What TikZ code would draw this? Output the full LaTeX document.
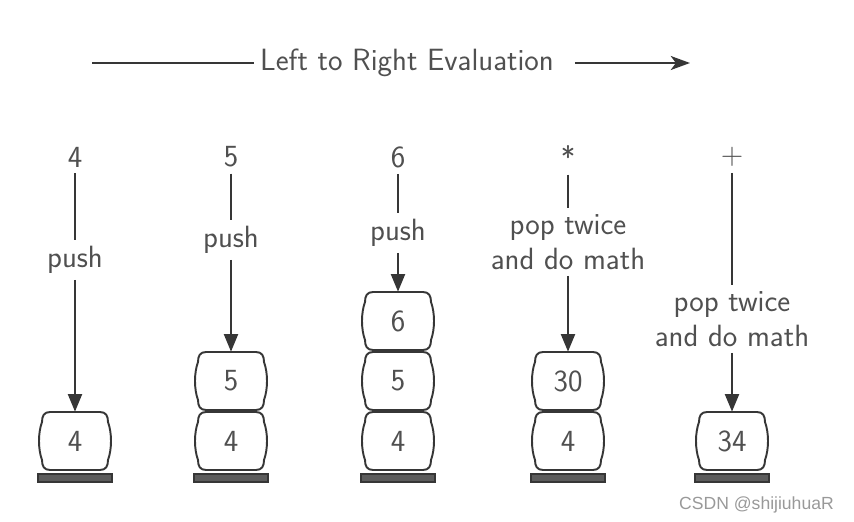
\documentclass[tikz,border=0pt]{standalone}
\usepackage{fontspec}
\newfontfamily\markfont{Liberation Sans}
\usepackage{xcolor}
\usepackage{tikz}
\usetikzlibrary{arrows.meta}
\usetikzlibrary{calc}

\definecolor{inkgray}{HTML}{363636}
\definecolor{textgray}{HTML}{505050}
\definecolor{basegray}{HTML}{5C5C5C}

\tikzset{
  num/.style={text=textgray, font=\sffamily\fontsize{17.5}{20}\selectfont},
  lbl/.style={num, align=center},
  cell/.style={num, minimum width=1.34cm, minimum height=1.16cm, inner sep=0pt},
  stackbase/.style={fill=basegray, draw=inkgray, line width=0.6pt, minimum width=1.48cm, minimum height=0.16cm, inner sep=0pt},
  wire/.style={draw=inkgray, line width=1.1pt},
  pusharrow/.style={wire, -{Triangle[length=10pt,width=8pt]}},
  barrelline/.style={draw=inkgray, line width=1.1pt},
  watermark/.style={text=gray!80, font=\markfont\fontsize{10}{12}\selectfont},
}

\newcommand{\barrel}[1]{%
  \draw[barrelline,shift={(#1.center)}] (-25,-29) -- (25,-29)
    .. controls (31,-29) and (33,-25) .. (33,-19)
    .. controls (37,-8) and (37,8) .. (33,19)
    .. controls (33,25) and (31,29) .. (25,29) -- (-25,29)
    .. controls (-31,29) and (-33,25) .. (-33,19)
    .. controls (-37,8) and (-37,-8) .. (-33,-19)
    .. controls (-33,-25) and (-31,-29) .. (-25,-29) -- cycle;}

\begin{document}
\begin{tikzpicture}[x=0.2mm,y=-0.2mm]
        \useasboundingbox (0,0) rectangle (854,522);

        \node[num] (title) at (407,63) {Left to Right Evaluation};
        \coordinate (tl) at (92,63);
        \coordinate (tr) at (690,63);
        \draw[wire] (tl) -- (title.west);
        \draw[wire,-{Stealth[length=11pt,width=8pt,inset=3pt]}] ([xshift=0.3cm]title.east) -- (tr);

        \node[num] (in1) at (75,157) {4};
        \node[lbl] (op1) at (75,260) {push};
        \node[cell] (c1a) at (75,441) {4};
        \node[stackbase] (base1) at (75,478) {};
        \draw[wire] (in1) -- (op1);
        \draw[pusharrow] (op1) -- (c1a);

        \node[num] (in2) at (231,157) {5};
        \node[lbl] (op2) at (231,240) {push};
        \node[cell] (c2a) at (231,441) {4};
        \node[cell] (c2b) at (231,381) {5};
        \node[stackbase] (base2) at (231,478) {};
        \draw[wire] (in2) -- (op2);
        \draw[pusharrow] (op2) -- (c2b);

        \node[num] (in3) at (398,157) {6};
        \node[lbl] (op3) at (398,233) {push};
        \node[cell] (c3a) at (398,441) {4};
        \node[cell] (c3b) at (398,381) {5};
        \node[cell] (c3c) at (398,321) {6};
        \node[stackbase] (base3) at (398,478) {};
        \draw[wire] (in3) -- (op3);
        \draw[pusharrow] (op3) -- (c3c);

        \node[num] (in4) at (568,157) {*};
        \node[lbl] (op4) at (568,242) {pop twice\\and do math};
        \node[cell] (c4a) at (568,441) {4};
        \node[cell] (c4b) at (568,381) {30};
        \node[stackbase] (base4) at (568,478) {};
        \draw[wire] (in4) -- (op4);
        \draw[pusharrow] (op4) -- (c4b);

        \node[num] (in5) at (732,157) {+};
        \node[lbl] (op5) at (732,319) {pop twice\\and do math};
        \node[cell] (c5a) at (732,441) {34};
        \node[stackbase] (base5) at (732,478) {};
        \draw[wire] (in5) -- (op5);
        \draw[pusharrow] (op5) -- (c5a);

        \foreach \c in {c1a,c2a,c2b,c3a,c3b,c3c,c4a,c4b,c5a} {\barrel{\c}}

        \node[watermark,anchor=east] (csdn) at (840,505) {CSDN @shijiuhuaR};
    \end{tikzpicture}
\end{document}
